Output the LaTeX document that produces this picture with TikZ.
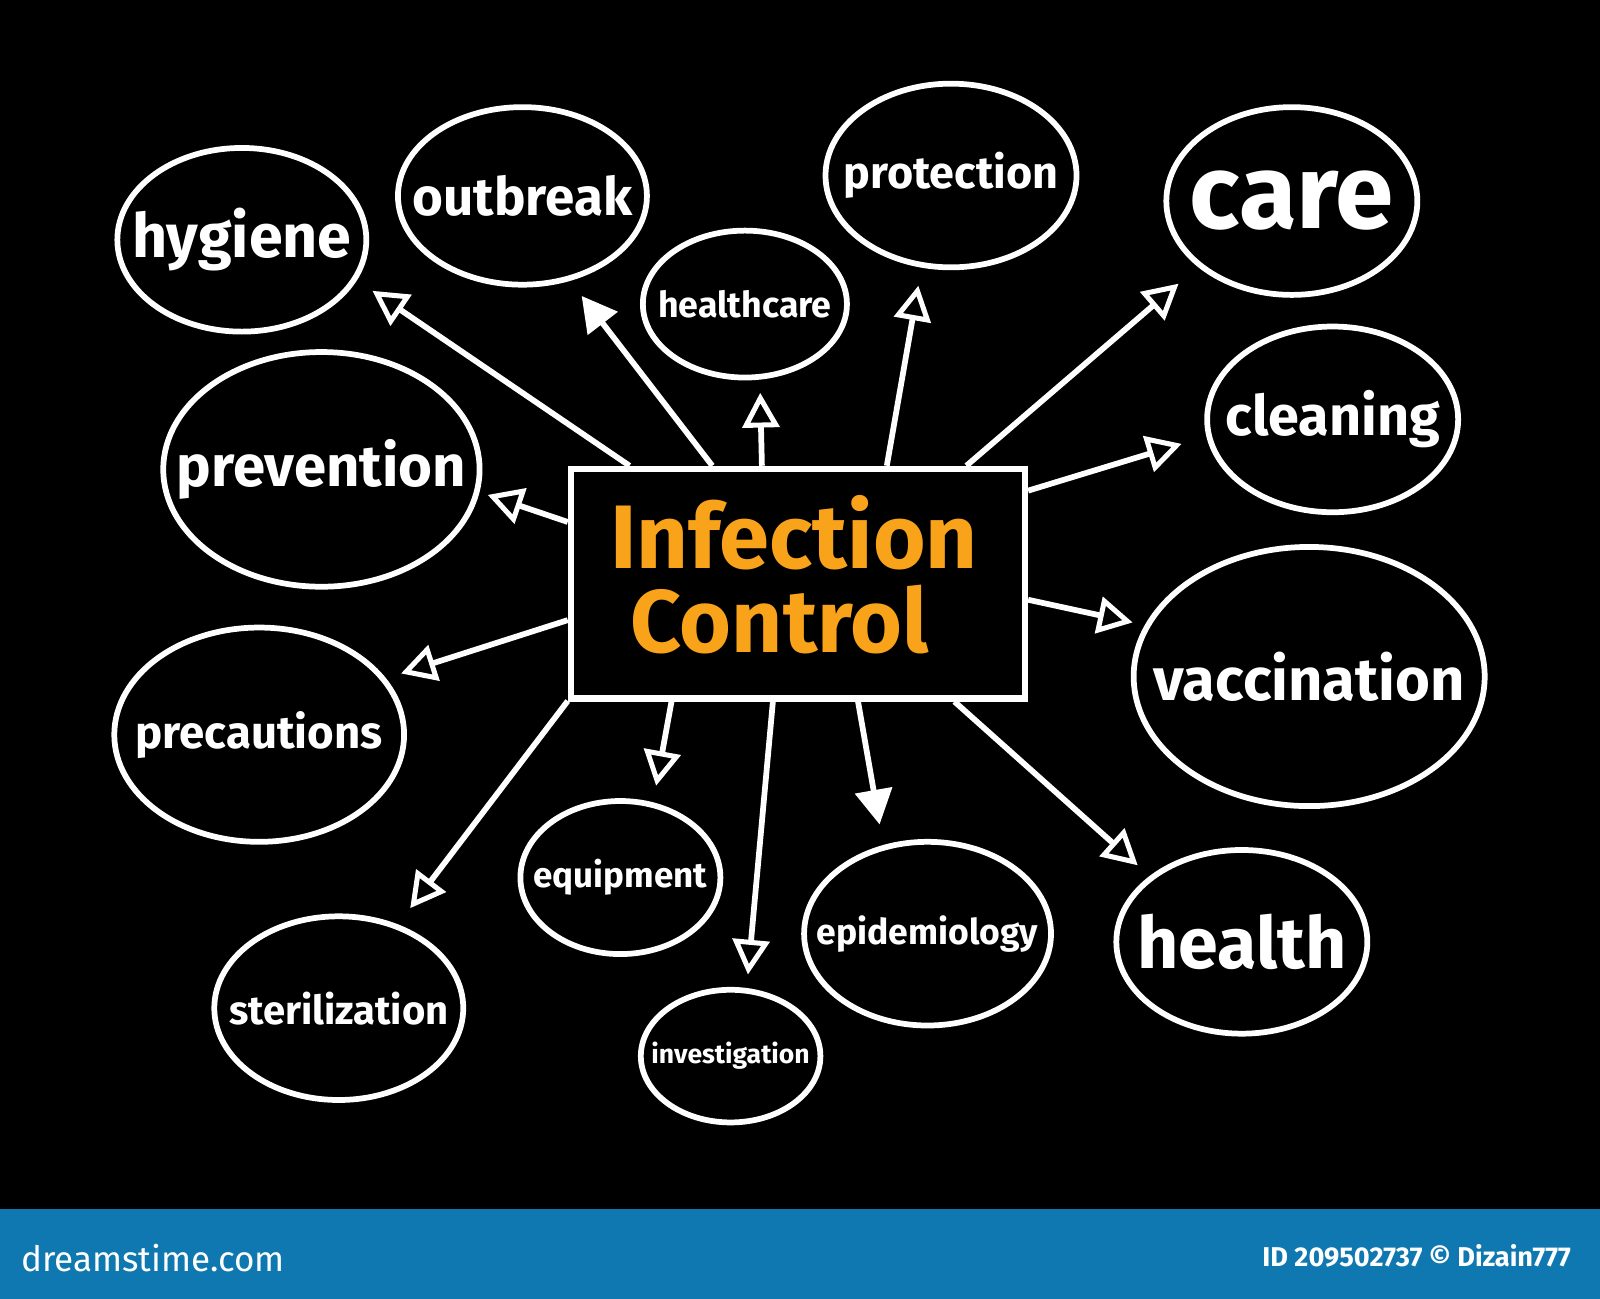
\documentclass[tikz,border=0pt]{standalone}
\usepackage{fontspec}
\setmainfont{Fira Sans}
\usepackage{graphicx}
\usetikzlibrary{arrows.meta}
\definecolor{marker}{HTML}{F9A31A}
\definecolor{strip}{HTML}{1078B0}

\begin{document}
\begin{tikzpicture}[x=0.01cm, y=-0.01cm,
    ring/.style={draw=white, line width=1.6pt},
    word/.style={text=white, inner sep=0pt, font=\bfseries},
    arr/.style={draw=white, line width=1.6pt,
      -{Triangle[open, length=0.34cm, width=0.36cm, line width=1.4pt]}},
    arrf/.style={arr, -{Triangle[length=0.34cm, width=0.36cm]}},
  ]
  \fill[black] (0,0) rectangle (1568,1185);
  \fill[strip] (0,1185) rectangle (1568,1273);
  \useasboundingbox (0,0) rectangle (1568,1273);

  % centre box
  \node[draw=white, line width=1.7pt, minimum width=4.45cm,
    minimum height=2.25cm, inner sep=0pt] (ic) at (782,572) {};
  \node[text=marker, inner sep=0pt, font=\bfseries] (t1) at (778,522)
    {\resizebox{3.6cm}{!}{Infection}};
  \node[text=marker, inner sep=0pt, font=\bfseries] (t2) at (764,607)
    {\resizebox{2.92cm}{!}{Control}};

  % bubbles
  \foreach \n/\x/\y/\rx/\ry/\w/\t in {
      hyg/237/235/122/90/2.15/hygiene,
      outb/512/192/122/87/2.15/outbreak,
      hcare/730/298/100/72/1.70/healthcare,
      prot/932/172/123/90/2.10/protection,
      care/1266/197/123/92/2.00/care,
      clean/1306/411/123/91/2.10/cleaning,
      prev/315/460/155/115/2.83/prevention,
      vacc/1283/663/172/127/3.05/vaccination,
      prec/254/720/142/105/2.42/precautions,
      equip/608/860/98/75/1.70/equipment,
      epid/909/915/121/90/2.17/epidemiology,
      health/1217/923/123/90/2.05/health,
      steril/332/988/122/90/2.15/sterilization,
      invest/716/1035/88/65/1.55/investigation} {
    \draw[ring] (\x,\y) ellipse [x radius=\rx, y radius=\ry];
    \node[word] (\n) at (\x,\y) {\resizebox{\w cm}{!}{\t}};
  }

  % arrows
  \foreach \a/\n/\tx/\ty/\s in {
      145/hyg/365/285/arr,
      126/outb/570/290/arrf,
      107/hcare/745/385/arr,
      53.5/prot/900/280/arr,
      35.3/care/1155/278/arr,
      22.9/clean/1158/435/arr,
      165.6/prev/478/485/arr,
      -4.6/vacc/1110/610/arr,
      -171/prec/393/660/arr,
      -153/steril/402/890/arr,
      -137/equip/643/770/arr,
      -102.6/invest/733/955/arr,
      -63.4/epid/862/808/arrf,
      -37.1/health/1115/848/arr} {
    \coordinate (\n-tip) at (\tx,\ty);
    \draw[\s] (ic.\a) -- (\n-tip);
  }

  % footer
  \node[text=white, inner sep=0pt, anchor=west] (site) at (20,1233)
    {\resizebox{2.58cm}{!}{dreamstime.com}};
  \node[text=white, inner sep=0pt, anchor=east, font=\bfseries] (id) at (1540,1231)
    {\resizebox{3.02cm}{!}{ID 209502737 © Dizain777}};
\end{tikzpicture}
\end{document}
